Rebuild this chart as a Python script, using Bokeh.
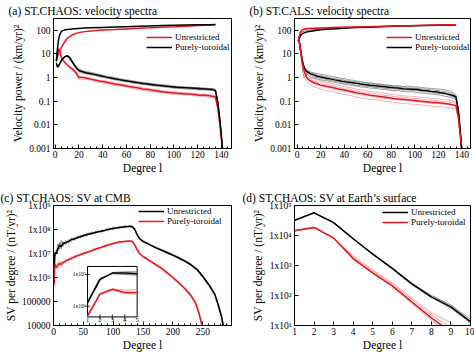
import math
from bokeh.plotting import figure
from bokeh.models import (Range1d, FixedTicker, SingleIntervalTicker, Legend, LegendItem,
                          LinearScale, LogScale)
from bokeh.layouts import gridplot
from bokeh.embed import file_html
from bokeh.resources import INLINE
from bokeh.core.properties import value

# ---------------- data: panel (a) ST.CHAOS velocity spectra ----------------
A_L = [1, 2, 3, 4, 5, 6, 8, 10, 12, 14, 16, 18, 20, 23, 26, 29, 32, 35, 38, 41, 44, 47, 50, 54, 58,
       62, 66, 70, 74, 78, 82, 86, 90, 94, 98, 102, 106, 110, 114, 118, 122, 126, 130, 133, 135]
A_RED_MEAN = [5, 12, 16, 12, 8, 6, 4.5, 3.5, 2.8, 2.4, 2.0, 1.5, 1.0, 1.0, 0.95, 0.88, 0.82, 0.75, 0.7, 0.66,
              0.62, 0.58, 0.54, 0.5, 0.46, 0.42, 0.39, 0.36, 0.33, 0.31, 0.29, 0.27, 0.25, 0.24, 0.23, 0.22,
              0.21, 0.2, 0.2, 0.19, 0.18, 0.18, 0.17, 0.16, 0.15]
A_RED_M1 = [4.5, 11, 15, 11, 7.5, 5.6, 4.2, 3.3, 2.9, 2.6, 2.2, 1.6, 1.1, 1.1, 1.02, 0.98, 0.88, 0.84, 0.75, 0.74,
            0.68, 0.66, 0.59, 0.57, 0.5, 0.48, 0.43, 0.41, 0.37, 0.35, 0.32, 0.31, 0.28, 0.27, 0.26, 0.25,
            0.23, 0.23, 0.22, 0.21, 0.2, 0.2, 0.19, 0.18, 0.17]
A_RED_M2 = [5.5, 13, 17, 13, 8.5, 6.4, 4.8, 3.7, 2.7, 2.2, 1.8, 1.35, 0.8, 0.85, 0.84, 0.78, 0.74, 0.66, 0.62, 0.58,
            0.55, 0.51, 0.47, 0.44, 0.41, 0.37, 0.34, 0.31, 0.29, 0.27, 0.26, 0.24, 0.23, 0.21, 0.2, 0.2,
            0.19, 0.18, 0.18, 0.17, 0.16, 0.16, 0.15, 0.14, 0.135]
A_RED_M3 = [5, 12.5, 15.5, 12.5, 8.2, 6.1, 4.4, 3.4, 3.0, 2.5, 1.9, 1.45, 0.95, 1.05, 0.92, 0.9, 0.8, 0.77, 0.68,
            0.68, 0.6, 0.6, 0.52, 0.52, 0.45, 0.43, 0.38, 0.37, 0.32, 0.32, 0.28, 0.28, 0.25, 0.25, 0.22, 0.23,
            0.2, 0.21, 0.19, 0.2, 0.18, 0.19, 0.17, 0.17, 0.15]
A_BLK_MEAN = [4, 2.8, 3.2, 4, 5, 6, 7.5, 8.5, 7, 5, 3.5, 2.5, 2.0, 1.75, 1.6, 1.5, 1.4, 1.3, 1.2, 1.1,
              1.02, 0.96, 0.9, 0.82, 0.76, 0.7, 0.65, 0.6, 0.56, 0.53, 0.5, 0.47, 0.45, 0.43, 0.41, 0.39,
              0.38, 0.37, 0.36, 0.35, 0.34, 0.33, 0.32, 0.31, 0.28]
A_BLK_M1 = [3.5, 2.6, 3.0, 3.8, 4.8, 5.8, 7.2, 8.8, 7.5, 5.5, 3.8, 2.8, 2.3, 2.0, 1.8, 1.7, 1.58, 1.45, 1.36, 1.23,
            1.13, 1.08, 1.0, 0.92, 0.84, 0.78, 0.72, 0.66, 0.62, 0.59, 0.56, 0.52, 0.5, 0.48, 0.45, 0.43,
            0.42, 0.4, 0.4, 0.38, 0.38, 0.36, 0.35, 0.34, 0.31]
A_BLK_M2 = [4.5, 3.0, 3.4, 4.2, 5.2, 6.2, 7.8, 8.0, 6.5, 4.6, 3.2, 2.3, 1.75, 1.55, 1.45, 1.35, 1.25, 1.17, 1.05, 1.0,
            0.92, 0.86, 0.81, 0.74, 0.69, 0.64, 0.58, 0.55, 0.51, 0.48, 0.45, 0.43, 0.41, 0.39, 0.37, 0.35,
            0.34, 0.33, 0.32, 0.31, 0.3, 0.3, 0.29, 0.28, 0.25]
A_BLK_M3 = [3.8, 2.9, 3.3, 4.1, 5.1, 6.0, 7.4, 8.4, 7.8, 5.8, 3.3, 2.6, 2.1, 1.85, 1.55, 1.58, 1.35, 1.35, 1.18,
            1.15, 1.0, 1.0, 0.88, 0.85, 0.74, 0.73, 0.63, 0.62, 0.55, 0.55, 0.49, 0.49, 0.44, 0.45, 0.4, 0.41,
            0.37, 0.38, 0.35, 0.36, 0.33, 0.34, 0.31, 0.32, 0.29]
A_TAIL_L = [137, 139, 141]
A_RED_TAIL = [0.05, 0.008, 0.0008]
A_BLK_TAIL = [0.09, 0.012, 0.0009]
A_CL = [1, 2, 3, 4, 5, 6, 8, 10, 13, 16, 20, 25, 30, 40, 50, 60, 70, 80, 90, 100, 110, 120, 130, 135]
A_RED_CUM = [5, 8, 11, 14, 18, 22, 32, 45, 58, 70, 80, 88, 94, 102, 108, 115, 122, 128, 135, 142, 150, 158, 166, 171]
A_BLK_CUM = [5, 18, 45, 68, 85, 95, 104, 108, 112, 116, 120, 124, 127, 133, 138, 143, 148, 153, 158, 162, 166, 170, 174, 176]

# ---------------- data: panel (b) ST.CALS velocity spectra ----------------
B_L = [1, 2, 3, 4, 5, 6, 7, 8, 9, 10, 12, 14, 16, 18, 20, 23, 26, 29, 32, 35, 38, 41, 44, 47, 50,
       54, 58, 62, 66, 70, 74, 78, 82, 86, 90, 94, 98, 102, 106, 110, 114, 118, 122, 126, 130, 133, 135]
B_BLK_MEAN = [40, 30, 15, 7, 4, 2.8, 2.2, 1.9, 1.7, 1.6, 1.4, 1.3, 1.2, 1.1, 1.05, 0.98, 0.92, 0.86, 0.8, 0.75,
              0.7, 0.66, 0.63, 0.6, 0.57, 0.53, 0.5, 0.47, 0.45, 0.43, 0.41, 0.39, 0.37, 0.36, 0.34, 0.33,
              0.32, 0.31, 0.29, 0.28, 0.26, 0.25, 0.23, 0.21, 0.19, 0.17, 0.15]
B_BLK_M1 = [38, 28, 13, 6, 3.4, 2.5, 2.3, 2.2, 2.0, 1.9, 1.7, 1.6, 1.5, 1.45, 1.4, 1.3, 1.2, 1.15, 1.05, 1.0,
            0.92, 0.88, 0.8, 0.78, 0.72, 0.68, 0.62, 0.6, 0.55, 0.54, 0.5, 0.48, 0.45, 0.46, 0.42, 0.44,
            0.41, 0.4, 0.38, 0.36, 0.35, 0.33, 0.32, 0.3, 0.27, 0.22, 0.18]
B_BLK_M2 = [42, 32, 16, 8, 4.5, 3.0, 2.0, 1.6, 1.3, 1.2, 1.0, 0.95, 0.9, 0.85, 0.8, 0.75, 0.72, 0.66, 0.62, 0.58,
            0.55, 0.5, 0.49, 0.46, 0.44, 0.4, 0.39, 0.36, 0.35, 0.33, 0.31, 0.3, 0.28, 0.28, 0.26, 0.25,
            0.25, 0.23, 0.22, 0.21, 0.2, 0.19, 0.18, 0.16, 0.15, 0.13, 0.12]
B_BLK_M3 = [36, 29, 14, 6.5, 3.8, 2.6, 2.0, 1.8, 1.8, 1.7, 1.5, 1.5, 1.35, 1.2, 1.25, 1.1, 1.05, 0.95, 0.92, 0.85,
            0.82, 0.75, 0.72, 0.68, 0.66, 0.6, 0.58, 0.55, 0.52, 0.5, 0.47, 0.45, 0.43, 0.4, 0.4, 0.37,
            0.36, 0.35, 0.33, 0.32, 0.3, 0.29, 0.27, 0.25, 0.22, 0.19, 0.16]
B_BLK_M4 = [40, 31, 15, 5, 1.5, 1.0, 1.2, 1.4, 1.5, 1.45, 1.2, 1.1, 1.0, 1.0, 0.9, 0.88, 0.8, 0.76, 0.7, 0.68,
            0.6, 0.58, 0.55, 0.52, 0.48, 0.46, 0.43, 0.42, 0.38, 0.38, 0.35, 0.34, 0.33, 0.32, 0.3, 0.3,
            0.28, 0.28, 0.26, 0.25, 0.24, 0.22, 0.21, 0.2, 0.17, 0.15, 0.14]
B_RED_MEAN = [40, 30, 13, 5.5, 3, 2, 1.4, 1.1, 0.9, 0.8, 0.7, 0.62, 0.56, 0.52, 0.48, 0.45, 0.42, 0.39, 0.36, 0.33,
              0.31, 0.29, 0.27, 0.25, 0.23, 0.21, 0.2, 0.18, 0.17, 0.16, 0.15, 0.14, 0.13, 0.125, 0.12, 0.115,
              0.11, 0.105, 0.1, 0.095, 0.09, 0.088, 0.085, 0.08, 0.075, 0.07, 0.065]
B_RED_M1 = [38, 27, 11, 4.5, 2.4, 1.5, 1.0, 0.75, 0.6, 0.55, 0.45, 0.42, 0.38, 0.35, 0.32, 0.3, 0.28, 0.26, 0.24,
            0.22, 0.2, 0.19, 0.18, 0.17, 0.15, 0.14, 0.13, 0.12, 0.115, 0.11, 0.1, 0.095, 0.09, 0.085, 0.08,
            0.078, 0.075, 0.072, 0.07, 0.066, 0.063, 0.06, 0.058, 0.055, 0.052, 0.05, 0.046]
B_RED_M2 = [42, 33, 15, 6.5, 3.6, 2.5, 1.8, 1.5, 1.3, 1.15, 1.0, 0.9, 0.8, 0.75, 0.7, 0.65, 0.6, 0.56, 0.5, 0.48,
            0.44, 0.42, 0.38, 0.36, 0.33, 0.31, 0.29, 0.26, 0.25, 0.23, 0.22, 0.2, 0.19, 0.18, 0.17, 0.165,
            0.16, 0.15, 0.145, 0.14, 0.13, 0.125, 0.12, 0.115, 0.11, 0.1, 0.09]
B_RED_M3 = [39, 29, 12, 5, 2.8, 1.8, 1.3, 1.0, 0.85, 0.75, 0.62, 0.58, 0.5, 0.5, 0.42, 0.42, 0.36, 0.37, 0.31, 0.3,
            0.27, 0.27, 0.23, 0.23, 0.2, 0.2, 0.17, 0.17, 0.15, 0.15, 0.13, 0.13, 0.115, 0.115, 0.105, 0.105,
            0.095, 0.097, 0.088, 0.088, 0.08, 0.082, 0.076, 0.074, 0.068, 0.063, 0.058]
B_RED_M4 = [41, 31, 14, 6, 3.2, 2.2, 1.6, 1.25, 1.0, 0.95, 0.85, 0.72, 0.68, 0.6, 0.6, 0.52, 0.52, 0.45, 0.44, 0.38,
            0.37, 0.33, 0.33, 0.29, 0.28, 0.25, 0.24, 0.21, 0.21, 0.19, 0.18, 0.17, 0.16, 0.15, 0.15, 0.14,
            0.13, 0.13, 0.12, 0.115, 0.11, 0.105, 0.1, 0.097, 0.09, 0.085, 0.078]
B_TAIL_L = [137, 138.5, 140]
B_BLK_TAIL = [0.04, 0.006, 0.0008]
B_RED_TAIL = [0.02, 0.004, 0.0007]
B_CL = [1, 2, 3, 4, 5, 6, 8, 10, 13, 16, 20, 25, 30, 40, 50, 60, 70, 80, 90, 100, 110, 120, 130, 135]
B_RED_CUM = [35, 60, 85, 100, 108, 112, 116, 118, 120, 122, 124, 127, 130, 134, 138, 142, 146, 150, 154, 158, 162, 166, 170, 172]
B_RED_CUM2 = [35, 65, 92, 108, 115, 118, 121, 123, 125, 126, 128, 130, 132, 136, 140, 144, 148, 151, 155, 159, 163, 167, 171, 173]
B_BLK_CUM = [35, 48, 60, 68, 74, 78, 84, 88, 94, 99, 105, 110, 115, 123, 130, 136, 142, 147, 152, 157, 161, 165, 169, 171]
B_BLK_CUM2 = [35, 55, 72, 82, 88, 92, 97, 101, 105, 109, 113, 117, 121, 128, 134, 139, 144, 149, 153, 158, 162, 166, 170, 172]

# ---------------- data: panel (c) SV at CMB ----------------
C_BL = [1, 2, 3, 4, 5, 7, 10, 13, 16, 20, 25, 30, 35, 40, 45, 50, 55, 60, 65, 70, 75, 80, 85, 90, 95, 100,
        105, 110, 115, 120, 125, 130, 133, 136, 139, 142, 145, 150, 160, 170, 180, 190, 200, 210, 220, 230,
        240, 250, 260, 270, 276, 281, 285]
C_BLK_MEAN = [1.3e6, 7e6, 1.1e7, 1.1e7, 1.05e7, 1.5e7, 2.2e7, 2.0e7, 2.6e7, 2.8e7, 3.2e7, 3.8e7, 4.0e7, 4.6e7,
              5.0e7, 5.5e7, 6.0e7, 6.5e7, 7.0e7, 7.5e7, 8.0e7, 8.5e7, 9.0e7, 9.8e7, 1.05e8, 1.1e8, 1.15e8,
              1.2e8, 1.25e8, 1.3e8, 1.32e8, 1.35e8, 1.25e8, 1.0e8, 7e7, 5e7, 4e7, 3.2e7, 2.4e7, 1.8e7, 1.4e7,
              1.1e7, 8.5e6, 6.5e6, 4.8e6, 3.4e6, 2.2e6, 1.1e6, 5e5, 2e5, 7e4, 2.5e4, 8e3]
C_BLK_M1 = [1.2e6, 6.5e6, 1.15e7, 1.2e7, 1.2e7, 2.5e7, 1.5e7, 3.5e7, 2.0e7, 3.5e7, 2.6e7, 4.5e7, 3.4e7, 5.5e7,
            4.4e7, 6.5e7, 5.2e7, 7.5e7, 6.2e7, 8.5e7, 7.2e7, 1.0e8, 8.0e7, 1.15e8, 9.5e7, 1.3e8, 1.05e8,
            1.4e8, 1.15e8, 1.5e8, 1.25e8, 1.45e8, 1.3e8, 1.05e8, 7.5e7, 5.2e7, 4.2e7, 3.4e7, 2.6e7, 1.9e7,
            1.5e7, 1.2e7, 9e6, 7e6, 5.2e6, 3.7e6, 2.4e6, 1.2e6, 5.5e5, 2.2e5, 8e4, 2.8e4, 9e3]
C_BLK_M2 = [1.4e6, 7.5e6, 1.05e7, 1.0e7, 9.5e6, 1.1e7, 3.0e7, 1.6e7, 3.2e7, 2.3e7, 3.8e7, 3.2e7, 4.8e7, 4.0e7,
            5.8e7, 4.8e7, 7.0e7, 5.8e7, 8.0e7, 6.8e7, 9.0e7, 7.5e7, 1.0e8, 8.8e7, 1.15e8, 9.8e7, 1.3e8,
            1.1e8, 1.4e8, 1.2e8, 1.45e8, 1.25e8, 1.2e8, 9.5e7, 6.5e7, 4.8e7, 3.8e7, 3.0e7, 2.3e7, 1.7e7,
            1.35e7, 1.0e7, 8e6, 6e6, 4.5e6, 3.2e6, 2.0e6, 1.0e6, 4.5e5, 1.8e5, 6e4, 2.2e4, 7e3]
C_RL = [1, 2, 3, 4, 5, 7, 10, 13, 16, 20, 25, 30, 35, 40, 45, 50, 55, 60, 65, 70, 75, 80, 85, 90, 95, 100,
        105, 110, 115, 120, 125, 130, 133, 136, 139, 142, 145, 150, 160, 170, 180, 190, 200, 210, 220, 230,
        238, 244, 249]
C_RED_MEAN = [5e5, 2.4e6, 3.4e6, 2.7e6, 2.7e6, 3.2e6, 3.8e6, 3.5e6, 4.2e6, 4.8e6, 5.5e6, 6.3e6, 7.2e6, 8e6,
              9e6, 1.0e7, 1.1e7, 1.2e7, 1.35e7, 1.5e7, 1.65e7, 1.8e7, 2.0e7, 2.2e7, 2.4e7, 2.6e7, 2.8e7,
              3.0e7, 3.1e7, 3.2e7, 3.3e7, 3.3e7, 3.0e7, 2.3e7, 1.6e7, 1.2e7, 9.5e6, 7.5e6, 5.2e6, 3.6e6,
              2.5e6, 1.6e6, 1.0e6, 6e5, 3.4e5, 1.8e5, 8.5e4, 3e4, 9e3]
C_RED_M1 = [5.2e5, 2.5e6, 3.5e6, 3.2e6, 3.3e6, 4.5e6, 3.0e6, 4.8e6, 3.6e6, 5.8e6, 4.8e6, 7.5e6, 6.2e6, 9.5e6,
            7.8e6, 1.2e7, 9.5e6, 1.4e7, 1.15e7, 1.7e7, 1.45e7, 2.1e7, 1.75e7, 2.5e7, 2.1e7, 2.9e7, 2.5e7,
            3.4e7, 2.8e7, 3.6e7, 3.0e7, 3.6e7, 3.2e7, 2.5e7, 1.7e7, 1.3e7, 1.0e7, 8e6, 5.6e6, 3.9e6, 2.7e6,
            1.75e6, 1.1e6, 6.5e5, 3.7e5, 2.0e5, 9.5e4, 3.4e4, 1.0e4]
C_RED_M2 = [4.8e5, 2.3e6, 3.3e6, 2.5e6, 2.4e6, 2.4e6, 4.6e6, 2.8e6, 5.0e6, 4.0e6, 6.5e6, 5.4e6, 8.5e6, 7.0e6,
            1.05e7, 8.8e6, 1.3e7, 1.05e7, 1.55e7, 1.3e7, 1.9e7, 1.6e7, 2.3e7, 1.95e7, 2.7e7, 2.3e7, 3.1e7,
            2.7e7, 3.4e7, 2.9e7, 3.5e7, 3.0e7, 2.8e7, 2.1e7, 1.5e7, 1.1e7, 9e6, 7e6, 4.8e6, 3.3e6, 2.3e6,
            1.45e6, 9e5, 5.5e5, 3.1e5, 1.6e5, 7.5e4, 2.6e4, 8e3]
INSET_N = 5                      # inset shows degrees 1..5 of the same series
INSET_XTICKS = [1, 2, 3, 4, 5]
INSET_XLABELS = ["1", "2", "3", "4", "5"]
INSET_YTICKS = [1e6, 1e7]
INSET_YLABELS = ["1x10\u2076", "1x10\u2077"]
INSET_YLO, INSET_YHI = 4.6e5, 1.78e7

# ---------------- data: panel (d) SV at Earth's surface ----------------
D_L = [1, 2, 3, 4, 5, 6, 7, 8, 9, 10]
D_BLK_MEAN = [3.2e4, 5.7e4, 2.7e4, 7.8e3, 2.4e3, 8.0e2, 2.45e2, 9.0e1, 4.2e1, 1.35e1]
D_BLK_M1 = [3.1e4, 5.6e4, 2.65e4, 7.6e3, 2.5e3, 8.3e2, 2.6e2, 1.0e2, 4.8e1, 1.6e1]
D_BLK_M2 = [3.3e4, 5.8e4, 2.75e4, 8.0e3, 2.35e3, 7.7e2, 2.3e2, 8.5e1, 3.8e1, 1.2e1]
D_RED_MEAN = [1.45e4, 1.86e4, 8.2e3, 1.7e3, 5.7e2, 2.1e2, 6.1e1, 1.8e1, 6.0, 2.0]
D_RED_M1 = [1.4e4, 1.82e4, 8.0e3, 2.1e3, 7.2e2, 2.6e2, 8.5e1, 2.6e1, 1.25e1, 4.0]
D_RED_M2 = [1.5e4, 1.9e4, 8.4e3, 1.9e3, 6.5e2, 2.4e2, 7.5e1, 2.2e1, 8.5, 3.0]
D_RED_M3 = [1.42e4, 1.84e4, 8.1e3, 1.6e3, 5.4e2, 2.0e2, 5.5e1, 1.5e1, 5.0, 1.5]

# ---------------- ticks / labels ----------------
A_YTICKS = [0.001, 0.01, 0.1, 1, 10, 100]
A_YLABELS = ["0.001", "0.01", "0.1", "1", "10", "100"]
C_XTICKS = [0, 50, 100, 150, 200, 250]
C_YTICKS = [1e4, 1e5, 1e6, 1e7, 1e8, 1e9]
C_YLABELS = ["10000", "100000", "1x10\u2076", "1x10\u2077", "1x10\u2078", "1x10\u2079"]
D_YTICKS = [1e1, 1e2, 1e3, 1e4, 1e5]
D_YLABELS = ["1x10\u00b9", "1x10\u00b2", "1x10\u00b3", "1x10\u2074", "1x10\u2075"]
LEG_A = ["Unrestricted", "Purely-toroidal"]
XLABEL = "Degree l"
YLABEL_V = "Velocity power / (km/yr)\u00b2"
YLABEL_SV = "SV per degree / (nT/yr)\u00b2"

FONT = "Liberation Serif"
RED = "#e8161d"
RED_LIGHT = "#f27a7e"
BLACK = "#000000"
GREY = "#555555"


def base(w, h, xr, yr, ml, mr, mt, mb, title, toff):
    p = figure(width=w, height=h, x_range=Range1d(*xr), y_range=Range1d(*yr), y_axis_type="log",
               output_backend="svg", toolbar_location=None,
               min_border_left=ml, min_border_right=mr, min_border_top=mt, min_border_bottom=mb)
    p.title.text = title
    p.title.text_font = FONT
    p.title.text_font_size = "11.5px"
    p.title.text_font_style = "normal"
    p.title.text_color = "black"
    p.title.align = "left"
    p.title.offset = toff
    p.title.standoff = 4
    p.xgrid.visible = False
    p.ygrid.visible = False
    p.outline_line_color = "black"
    p.outline_line_alpha = 1
    p.outline_line_width = 1
    p.background_fill_color = "white"
    p.border_fill_color = "white"
    return p


def style_axes(p, xticker, yticks, ylabels, ylabel):
    p.xaxis.ticker = xticker
    p.yaxis.ticker = FixedTicker(ticks=yticks, minor_ticks=[])
    p.yaxis.major_label_overrides = dict(zip(yticks, ylabels))
    p.xaxis.axis_label = XLABEL
    p.yaxis.axis_label = ylabel
    for ax in (p.xaxis[0], p.yaxis[0]):
        ax.axis_label_text_font = FONT
        ax.axis_label_text_font_size = "11.5px"
        ax.axis_label_text_font_style = "normal"
        ax.axis_label_text_color = "black"
        ax.major_label_text_font = FONT
        ax.major_label_text_font_size = "9.5px"
        ax.major_label_text_color = "black"
        ax.major_tick_in = 4
        ax.major_tick_out = 0
        ax.minor_tick_in = 2
        ax.minor_tick_out = 0
        ax.axis_line_color = "black"
        ax.major_tick_line_color = "black"
        ax.minor_tick_line_color = "black"
    p.xaxis.major_label_standoff = 2
    p.xaxis.axis_label_standoff = 1
    p.yaxis.major_label_standoff = 3
    p.yaxis.axis_label_standoff = 2


def add_legend(p, pairs, loc):
    lg = Legend(items=[LegendItem(label=t, renderers=[r]) for t, r in pairs], location=loc)
    lg.background_fill_alpha = 0
    lg.border_line_alpha = 0
    lg.padding = 0
    lg.margin = 0
    lg.spacing = 0
    lg.glyph_width = 26
    lg.glyph_height = 8
    lg.label_height = 8
    lg.label_standoff = 3
    lg.label_text_font = FONT
    lg.label_text_font_size = "9px"
    lg.label_text_color = "black"
    p.add_layout(lg)


def members(p, xs, ys_list, color, width=0.7, **kw):
    for ys in ys_list:
        p.line(xs, ys, line_color=color, line_width=width, line_alpha=0.85, **kw)


# ---------------- (a) ----------------
pa = base(237, 176, (-1.4, 148.5), (0.001, 316), 45, 6, 18, 28, "(a) ST.CHAOS: velocity spectra", -45)
style_axes(pa, SingleIntervalTicker(interval=20, num_minor_ticks=4), A_YTICKS, A_YLABELS, YLABEL_V)
members(pa, A_L + A_TAIL_L, [m + A_RED_TAIL for m in (A_RED_M1, A_RED_M2, A_RED_M3)], RED_LIGHT)
members(pa, A_L + A_TAIL_L, [m + A_BLK_TAIL for m in (A_BLK_M1, A_BLK_M2, A_BLK_M3)], GREY)
ra_red = pa.line(A_L + A_TAIL_L, A_RED_MEAN + A_RED_TAIL, line_color=RED, line_width=1.5)
pa.line(A_CL, A_RED_CUM, line_color=RED, line_width=1.5)
ra_blk = pa.line(A_L + A_TAIL_L, A_BLK_MEAN + A_BLK_TAIL, line_color=BLACK, line_width=1.5)
pa.line(A_CL, A_BLK_CUM, line_color=BLACK, line_width=1.5)
add_legend(pa, [(LEG_A[0], ra_red), (LEG_A[1], ra_blk)], (93, 96))

# ---------------- (b) ----------------
pb = base(237, 176, (-2.2, 147.3), (0.001, 316), 50, 2, 18, 28, "(b) ST.CALS: velocity spectra", -45)
style_axes(pb, SingleIntervalTicker(interval=20, num_minor_ticks=4), A_YTICKS, A_YLABELS, YLABEL_V)
members(pb, B_L + B_TAIL_L, [m + B_BLK_TAIL for m in (B_BLK_M1, B_BLK_M2, B_BLK_M3, B_BLK_M4)], GREY)
members(pb, B_L + B_TAIL_L, [m + B_RED_TAIL for m in (B_RED_M1, B_RED_M2, B_RED_M3, B_RED_M4)], RED_LIGHT)
members(pb, B_CL, [B_BLK_CUM2], GREY, width=1.0)
members(pb, B_CL, [B_RED_CUM2], RED_LIGHT, width=1.0)
rb_blk = pb.line(B_L + B_TAIL_L, B_BLK_MEAN + B_BLK_TAIL, line_color=BLACK, line_width=1.5)
pb.line(B_CL, B_BLK_CUM, line_color=BLACK, line_width=1.5)
rb_red = pb.line(B_L + B_TAIL_L, B_RED_MEAN + B_RED_TAIL, line_color=RED, line_width=1.5)
pb.line(B_CL, B_RED_CUM, line_color=RED, line_width=1.5)
add_legend(pb, [(LEG_A[0], rb_red), (LEG_A[1], rb_blk)], (92, 96))

# ---------------- (c) ----------------
C_ML, C_MR, C_MT, C_MB, C_W, C_H = 53, 1, 25, 26, 237, 177
pc = base(C_W, C_H, (0, 298), (1e4, 1e9), C_ML, C_MR, C_MT, C_MB, "(c) ST.CHAOS: SV at CMB", -53)
style_axes(pc, FixedTicker(ticks=C_XTICKS, minor_ticks=[t + d for t in C_XTICKS for d in (10, 20, 30, 40)]),
           C_YTICKS, C_YLABELS, YLABEL_SV)
members(pc, C_BL, [C_BLK_M1, C_BLK_M2], GREY)
members(pc, C_RL, [C_RED_M1, C_RED_M2], RED_LIGHT)
rc_blk = pc.line(C_BL, C_BLK_MEAN, line_color=BLACK, line_width=1.5)
rc_red = pc.line(C_RL, C_RED_MEAN, line_color=RED, line_width=1.5)
add_legend(pc, [(LEG_A[0], rc_blk), (LEG_A[1], rc_red)], (85, 99))

# inset: box placed (in frame pixels) at x 35..86, y 9..62 from frame bottom-left
fw, fh = C_W - C_ML - C_MR, C_H - C_MT - C_MB
fx0, fx1 = 35 / fw, 86 / fw
fy0, fy1 = 9 / fh, 62 / fh
xspan = (INSET_XTICKS[-1] - INSET_XTICKS[0]) / (fx1 - fx0)
ix0 = INSET_XTICKS[0] - fx0 * xspan
lo, hi = math.log10(INSET_YLO), math.log10(INSET_YHI)
yspan = (hi - lo) / (fy1 - fy0)
iy0 = lo - fy0 * yspan
pc.extra_x_ranges = {"ix": Range1d(ix0, ix0 + xspan)}
pc.extra_y_ranges = {"iy": Range1d(10 ** iy0, 10 ** (iy0 + yspan))}
pc.extra_x_scales = {"ix": LinearScale()}
pc.extra_y_scales = {"iy": LogScale()}
ik = dict(x_range_name="ix", y_range_name="iy")
pc.quad(left=[INSET_XTICKS[0]], right=[INSET_XTICKS[-1]], bottom=[INSET_YLO], top=[INSET_YHI],
        fill_color="white", line_color="black", line_width=1, **ik)
for ys in (C_RED_M1, C_RED_M2):
    pc.line(C_RL[:INSET_N], ys[:INSET_N], line_color=RED_LIGHT, line_width=0.8, **ik)
for ys in (C_BLK_M1, C_BLK_M2):
    pc.line(C_BL[:INSET_N], ys[:INSET_N], line_color=GREY, line_width=0.8, **ik)
pc.line(C_RL[:INSET_N], C_RED_MEAN[:INSET_N], line_color=RED, line_width=1.5, **ik)
pc.line(C_BL[:INSET_N], C_BLK_MEAN[:INSET_N], line_color=BLACK, line_width=1.5, **ik)
pc.text(x=INSET_XTICKS, y=[INSET_YLO] * len(INSET_XTICKS), text=INSET_XLABELS, text_align="center",
        text_baseline="top", y_offset=1, text_font=value(FONT), text_font_size="6.5px", text_color="black", **ik)
pc.text(x=[INSET_XTICKS[0]] * len(INSET_YTICKS), y=INSET_YTICKS, text=INSET_YLABELS, text_align="right",
        text_baseline="middle", x_offset=-2, text_font=value(FONT), text_font_size="5.5px", text_color="black", **ik)
pc.scatter(x=INSET_XTICKS[1:-1], y=[INSET_YLO] * (len(INSET_XTICKS) - 2), marker="dash", angle=math.pi / 2,
           size=5, line_color="black", line_width=0.8, **ik)
pc.scatter(x=[INSET_XTICKS[0]] * len(INSET_YTICKS), y=INSET_YTICKS, marker="dash", size=5,
           line_color="black", line_width=0.8, **ik)

# ---------------- (d) ----------------
pd_ = base(237, 177, (1, 10), (10, 1e5), 57, 4, 29, 26, "(d) ST.CHAOS: SV at Earth\u2019s surface", -52)
style_axes(pd_, SingleIntervalTicker(interval=1, num_minor_ticks=0), D_YTICKS, D_YLABELS, YLABEL_SV)
members(pd_, D_L, [D_BLK_M1, D_BLK_M2], GREY, width=0.8)
members(pd_, D_L, [D_RED_M1, D_RED_M2, D_RED_M3], RED_LIGHT, width=0.8)
rd_blk = pd_.line(D_L, D_BLK_MEAN, line_color=BLACK, line_width=1.5)
rd_red = pd_.line(D_L, D_RED_MEAN, line_color=RED, line_width=1.5)
add_legend(pd_, [(LEG_A[0], rd_blk), (LEG_A[1], rd_red)], (88, 98))

grid = gridplot([[pa, pb], [pc, pd_]], toolbar_location=None)
open("out.html", "w").write(file_html(grid, INLINE))
